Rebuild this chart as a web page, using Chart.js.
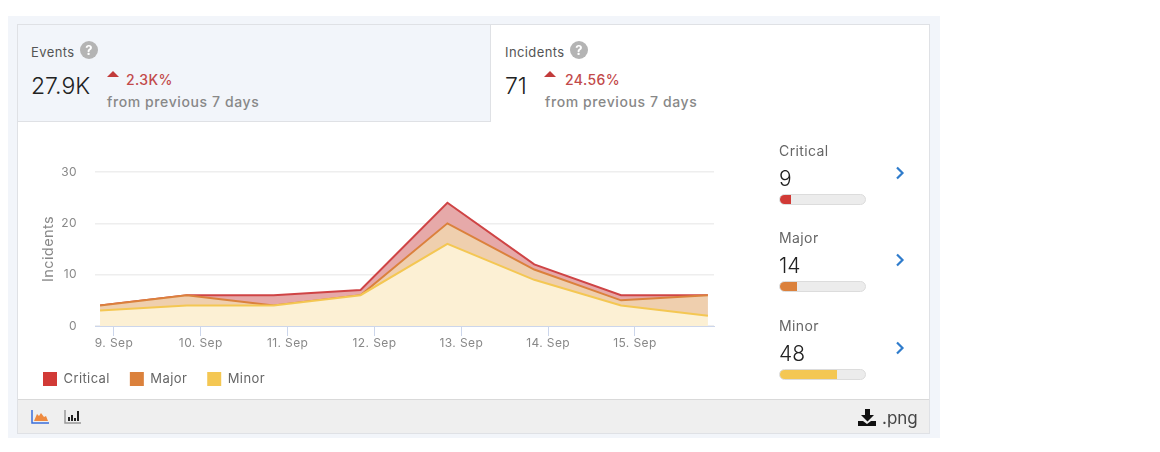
<!DOCTYPE html>
<html lang="en">
<head>
    <meta charset="UTF-8">
    <title>Incidents</title>
    <script src="https://cdn.jsdelivr.net/npm/chart.js"></script>
    <style>
        body { margin: 0; background: #fff; font-family: Inter, Arial, sans-serif; }
        .abs { position: absolute; white-space: nowrap; line-height: 1; }
        #outer { position: absolute; left: 8px; top: 16px; width: 932px; height: 422px; background: #f2f5fa; }
        #card { position: absolute; left: 17px; top: 24px; width: 911px; height: 408px; background: #fff; border: 1px solid #dfe1e5; }
        #tab { position: absolute; left: 18px; top: 25px; width: 472px; height: 96px; background: #f2f5fa; border-right: 1px solid #dfe1e5; border-bottom: 1px solid #dfe1e5; }
        #footer { position: absolute; left: 18px; top: 399px; width: 911px; height: 33px; background: #efefef; border-top: 1px solid #d9d9d9; }
        #chartBox { position: absolute; left: 18px; top: 122px; width: 732px; height: 276px; }
        .label { font-size: 13px; color: #555; letter-spacing: 0.4px; }
        .big { font-size: 23px; font-weight: 300; color: #222; }
        .pct { font-size: 14px; font-weight: 500; color: #c24a4a; letter-spacing: 0.4px; }
        .sub { font-size: 14px; font-weight: 500; color: #888; letter-spacing: 0.6px; }
        .track { position: absolute; left: 779px; width: 85px; height: 9px; background: #ececec; border: 1px solid #dcdcdc; border-radius: 6px; overflow: hidden; }
        .track div { height: 100%; }
        .sideName { font-size: 14px; color: #666; letter-spacing: 0.4px; }
        .sideVal { font-size: 21px; font-weight: 300; color: #222; }
    </style>
</head>
<body>
    <div id="outer"></div>
    <div id="card"></div>
    <div id="tab"></div>
    <div id="chartBox"><canvas id="areaChart"></canvas></div>
    <div id="footer"></div>

    <div class="abs label" style="left:31px;top:46px">Events</div>
    <div class="abs big" style="left:31px;top:75px">27.9K</div>
    <div class="abs pct" style="left:126px;top:73px">2.3K%</div>
    <div class="abs sub" style="left:107px;top:95px">from previous 7 days</div>
    <div class="abs label" style="left:505px;top:46px">Incidents</div>
    <div class="abs big" style="left:505px;top:75px">71</div>
    <div class="abs pct" style="left:565px;top:73px">24.56%</div>
    <div class="abs sub" style="left:545px;top:95px">from previous 7 days</div>

    <svg class="abs" style="left:0;top:0" width="1160" height="452">
        <circle cx="89" cy="50" r="9" fill="#b4b4b4"/>
        <text x="89" y="55" text-anchor="middle" font-family="Inter" font-weight="700" font-size="13" fill="#fff">?</text>
        <circle cx="579" cy="50" r="9" fill="#b4b4b4"/>
        <text x="579" y="55" text-anchor="middle" font-family="Inter" font-weight="700" font-size="13" fill="#fff">?</text>
        <path d="M107 77 L113 71 L119 77 Z" fill="#c23b3b"/>
        <path d="M544 77 L550 71 L556 77 Z" fill="#c23b3b"/>

        <!-- footer icons -->
        <path d="M32 410 V423 H49" fill="none" stroke="#3b6fdc" stroke-width="1.5"/>
        <path d="M34 421 L37 414 L39 416 L41 413 L44 417 L46 416 L48 421 Z" fill="#ee8a3f"/>
        <path d="M65 410 V423 H81" fill="none" stroke="#999" stroke-width="1.5"/>
        <path d="M68 417 h2 v4 h-2 Z M71 415 h2 v6 h-2 Z M74 418 h2 v3 h-2 Z M77 411 h2 v10 h-2 Z" fill="#222"/>
        <path d="M865 409 h5 v6 h4 l-6.5 6.5 l-6.500 -6.500 h4 Z" fill="#111"/>
        <path d="M858 421 h5 l4 3 l4 -3 h5 v5 h-18 Z" fill="#111"/>
        <text x="882" y="424" font-family="Inter" font-size="17" fill="#444">.png</text>
    </svg>

    <div id="side"></div>

    <script>
        const tickLabels = ['9. Sep', '10. Sep', '11. Sep', '12. Sep', '13. Sep', '14. Sep', '15. Sep'];
        const yTicks = [0, 10, 20, 30];
        // per day increments, stacked minor -> major -> critical
        const minorValues = [3, 4, 4, 6, 16, 9, 4, 2];
        const majorValues = [1, 2, 0, 0, 4, 2, 1, 4];
        const criticalValues = [0, 0, 2, 1, 4, 1, 1, 0];

        const sideNames = ['Critical', 'Major', 'Minor'];
        const sideTotals = [9, 14, 48];
        const sideColors = ['#d13a36', '#db813c', '#f4c753'];
        const sideTops = [144, 231, 319];

        const tickOffset = 0.16;
        const toPoints = (vals) => vals.map((y, i) => ({ x: i, y }));

        // canvas text is spaced a bit wider, same as the html labels
        const spacedText = {
            id: 'spacedText',
            beforeLayout: (chart) => { chart.ctx.letterSpacing = '0.4px'; },
            beforeDraw: (chart) => { chart.ctx.letterSpacing = '0.4px'; }
        };

        new Chart(document.getElementById('areaChart').getContext('2d'), {
            type: 'line',
            plugins: [spacedText],
            data: {
                datasets: [
                    { label: 'Minor', data: toPoints(minorValues), borderColor: '#f4c753', backgroundColor: '#fcf0d4', fill: 'origin' },
                    { label: 'Major', data: toPoints(majorValues), borderColor: '#db813c', backgroundColor: '#efcfae', fill: '-1' },
                    { label: 'Critical', data: toPoints(criticalValues), borderColor: '#cf4445', backgroundColor: '#e6a9a9', fill: '-1' }
                ]
            },
            options: {
                responsive: true,
                maintainAspectRatio: false,
                animation: false,
                elements: {
                    point: { radius: 0 },
                    line: { borderWidth: 2, tension: 0 }
                },
                layout: { padding: { left: 5, right: 36, top: 50, bottom: 2 } },
                scales: {
                    x: {
                        type: 'linear',
                        min: -0.058,
                        max: 7.07,
                        afterBuildTicks: (scale) => {
                            scale.ticks = tickLabels.map((t, i) => ({ value: i + tickOffset }));
                        },
                        afterFit: (scale) => { scale.height = 26; },
                        border: { color: '#ccd6eb' },
                        grid: { drawOnChartArea: false, tickColor: '#ccd6eb', tickLength: 10 },
                        ticks: {
                            autoSkip: false,
                            maxRotation: 0,
                            padding: 0,
                            color: '#888',
                            font: { family: 'Inter', size: 12 },
                            callback: (value) => tickLabels[Math.round(value - tickOffset)]
                        }
                    },
                    y: {
                        stacked: true,
                        min: 0,
                        max: 30,
                        afterBuildTicks: (scale) => {
                            scale.ticks = yTicks.map((value) => ({ value }));
                        },
                        afterFit: (scale) => { scale.width = 72; },
                        border: { display: false },
                        grid: { color: '#eeeeee', lineWidth: 1.500, drawTicks: false },
                        title: {
                            display: true,
                            text: 'Incidents',
                            color: '#888',
                            font: { family: 'Inter', size: 14.5 },
                            padding: { top: 17, bottom: 0 }
                        },
                        ticks: {
                            padding: 18,
                            color: '#888',
                            font: { family: 'Inter', size: 12 }
                        }
                    }
                },
                plugins: {
                    tooltip: { enabled: false },
                    legend: {
                        position: 'bottom',
                        align: 'start',
                        labels: {
                            boxWidth: 14,
                            boxHeight: 14,
                            padding: 20,
                            color: '#666',
                            font: { family: 'Inter', size: 13 },
                            sort: (a, b) => b.datasetIndex - a.datasetIndex,
                            generateLabels: (chart) => Chart.defaults.plugins.legend.labels.generateLabels(chart)
                                .map((item) => ({ ...item, fillStyle: sideColors[sideNames.indexOf(item.text)], lineWidth: 0 }))
                        }
                    }
                }
            }
        });

        // right hand panel, bars are the share of all incidents
        const total = sideTotals.reduce((a, b) => a + b, 0);
        const side = document.getElementById('side');
        sideNames.forEach((name, i) => {
            const top = sideTops[i];
            side.insertAdjacentHTML('beforeend', `
                <div class="abs sideName" style="left:779px;top:${top}px">${name}</div>
                <div class="abs sideVal" style="left:779px;top:${top + 24}px">${sideTotals[i]}</div>
                <div class="track" style="top:${top + 50}px"><div style="width:${sideTotals[i] / total * 100}%;background:${sideColors[i]}"></div></div>
                <svg class="abs" style="left:894px;top:${top + 22}px" width="12" height="14"><path d="M3 1.500 L8.500 7 L3 12.500" fill="none" stroke="#2f7ccc" stroke-width="2.200"/></svg>
            `);
        });
    </script>
</body>
</html>
